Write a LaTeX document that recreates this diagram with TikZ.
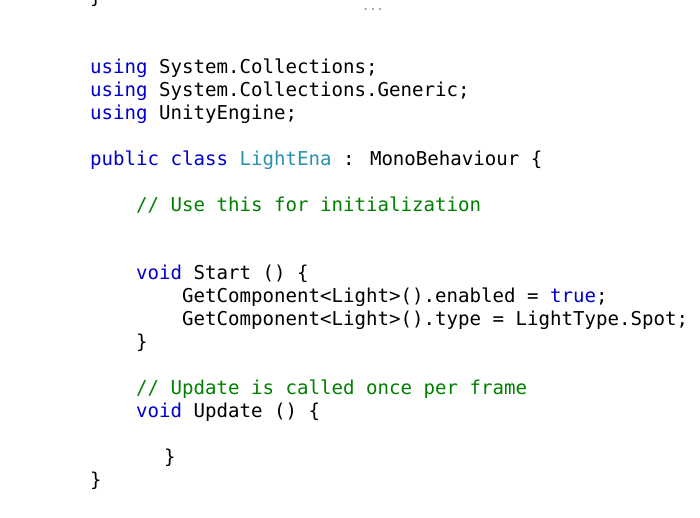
\documentclass[tikz,border=0pt]{standalone}
\usepackage{fontspec}
\newfontfamily\codefont{DejaVu Sans Mono}
\definecolor{kw}{RGB}{0,0,205}
\definecolor{ty}{RGB}{43,145,175}
\definecolor{cm}{RGB}{0,128,0}
\definecolor{tx}{RGB}{0,0,0}
\newcommand{\K}[1]{\textcolor{kw}{#1}}
\newcommand{\T}[1]{\textcolor{ty}{#1}}
\newcommand{\C}[1]{\textcolor{cm}{#1}}
\begin{document}
\begin{tikzpicture}[x=1pt,y=1pt,
  codeline/.style={anchor=base west,inner sep=0pt,font=\codefont\fontsize{19.1}{20}\selectfont,text=tx}]
\useasboundingbox[fill=white] (0,0) rectangle (700,-517);
\node[codeline] (l0) at (90,-3) {\}};
\node[codeline,text=gray] (dots) at (362,-10) {\fontsize{12}{12}\selectfont ...};
\node[codeline] (l1) at (90,-73) {\K{using} System.Collections;};
\node[codeline] (l2) at (90,-96) {\K{using} System.Collections.Generic;};
\node[codeline] (l3) at (90,-119) {\K{using} UnityEngine;};
\node[codeline] (l4) at (90,-165) {\K{public} \K{class} \T{LightEna} : MonoBehaviour \{};
\node[codeline] (l5) at (136,-211) {\C{// Use this for initialization}};
\node[codeline] (l6) at (136,-279) {\K{void} Start () \{};
\node[codeline] (l7) at (182,-302) {GetComponent<Light>().enabled = \K{true};};
\node[codeline] (l8) at (182,-325) {GetComponent<Light>().type = LightType.Spot;};
\node[codeline] (l9) at (136,-348) {\}};
\node[codeline] (l10) at (136,-394) {\C{// Update is called once per frame}};
\node[codeline] (l11) at (136,-417) {\K{void} Update () \{};
\node[codeline] (l12) at (164,-463) {\}};
\node[codeline] (l13) at (90,-486) {\}};
\end{tikzpicture}
\end{document}
